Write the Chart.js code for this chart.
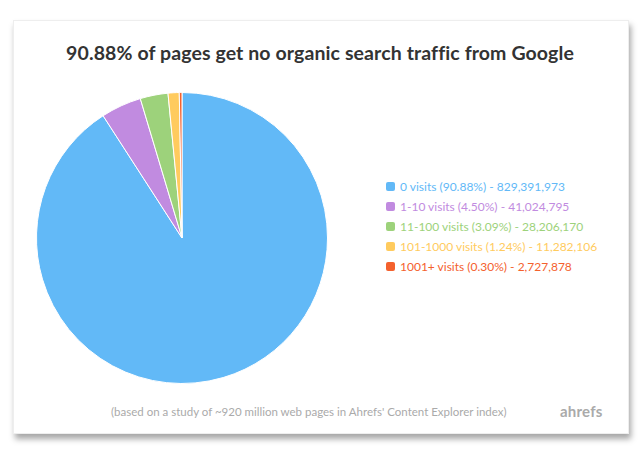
<!DOCTYPE html>
<html>
<head>
<meta charset="utf-8">
<script src="https://cdn.jsdelivr.net/npm/chart.js@4"></script>
<style>
	body { margin: 0; width: 640px; height: 455px; background: #fff; font-family: Lato, sans-serif; position: relative; overflow: hidden; }
	.card { position: absolute; left: 13px; top: 20px; width: 614px; height: 412px; background: #fff; border: 1px solid #eee; box-shadow: 2px 5px 6px rgba(0,0,0,0.35); }
	.title { position: absolute; left: 0; top: 41px; width: 640px; text-align: center; font-size: 19.5px; font-weight: bold; color: #333; letter-spacing: 0.1px; }
	#chartBox { position: absolute; left: 32px; top: 88px; width: 300px; height: 300px; }
	#legend { position: absolute; left: 386px; top: 177px; font-size: 12px; }
	#legend div { height: 20px; line-height: 20px; white-space: nowrap; }
	#legend span { display: inline-block; width: 9px; height: 9px; border-radius: 2px; margin-right: 5px; vertical-align: -0px; }
	.note { position: absolute; left: 111px; top: 405px; font-size: 11.5px; color: #aaa; }
	.logo { position: absolute; left: 560px; top: 402px; font-size: 15px; font-weight: bold; color: #aaa; letter-spacing: 0.2px; }
</style>
</head>
<body>
<div class="card"></div>
<div class="title">90.88% of pages get no organic search traffic from Google</div>
<div id="chartBox"><canvas id="myChart"></canvas></div>
<div id="legend"></div>
<div class="note">(based on a study of ~920 million web pages in Ahrefs' Content Explorer index)</div>
<div class="logo">ahrefs</div>

<script>
	var labels = ['0 visits', '1-10 visits', '11-100 visits', '101-1000 visits', '1001+ visits'];
	var percents = ['90.88%', '4.50%', '3.09%', '1.24%', '0.30%'];
	var pages = [829391973, 41024795, 28206170, 11282106, 2727878];
	var colors = ['#62b9f7', '#c18be0', '#9dd27b', '#ffcb5e', '#f4612d'];

	var legend = document.getElementById('legend');
	for (let i = 0; i < labels.length; i++) {
		var row = document.createElement('div');
		row.style.color = colors[i];
		row.innerHTML = '<span style="background:' + colors[i] + '"></span>' + labels[i] + ' (' + percents[i] + ') - ' + pages[i].toLocaleString('en-US');
		legend.appendChild(row);
	}

	var ctx = document.getElementById('myChart').getContext('2d');
	new Chart(ctx, {
		type: 'pie',
		data: {
			labels: labels,
			datasets: [{ data: pages, backgroundColor: colors, borderColor: '#fff', borderWidth: 1 }]
		},
		options: {
			responsive: true,
			maintainAspectRatio: false,
			animation: false,
			layout: { padding: 4 },
			plugins: { legend: { display: false }, tooltip: { enabled: false } }
		}
	});
</script>
</body>
</html>
